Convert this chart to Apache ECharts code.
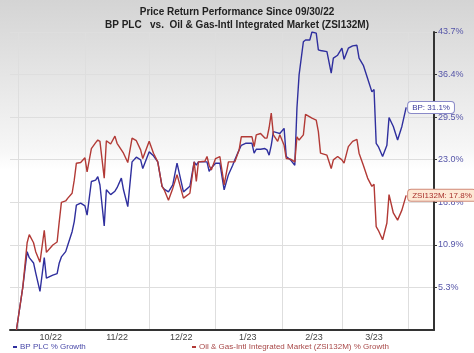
<!DOCTYPE html>
<html lang="en">
<head>
<meta charset="UTF-8">
<title>BP PLC vs ZSI132M</title>
<script src="https://cdn.jsdelivr.net/npm/echarts@6/dist/echarts.min.js"></script>
<style>
    html, body { margin: 0; padding: 0; background: #fff; }
    #chart { width: 474px; height: 353px; }
</style>
</head>
<body>
<div id="chart"></div>
<script>
// trading dates (not every day)
var dates = [
    '2022-09-30','2022-10-03','2022-10-05','2022-10-06','2022-10-08','2022-10-09','2022-10-11','2022-10-13','2022-10-14','2022-10-17',
    '2022-10-19','2022-10-20','2022-10-21','2022-10-23','2022-10-24','2022-10-26','2022-10-27','2022-10-28','2022-10-30',
    '2022-11-01','2022-11-02','2022-11-04','2022-11-06','2022-11-07','2022-11-08','2022-11-10','2022-11-11','2022-11-13','2022-11-15',
    '2022-11-16','2022-11-18','2022-11-19','2022-11-21','2022-11-23','2022-11-25','2022-11-27','2022-11-28',
    '2022-12-01','2022-12-03','2022-12-05','2022-12-07','2022-12-08','2022-12-10','2022-12-12','2022-12-14','2022-12-17','2022-12-20',
    '2022-12-22','2022-12-23','2022-12-24','2022-12-27','2022-12-28','2022-12-29','2022-12-30',
    '2023-01-01','2023-01-03','2023-01-05','2023-01-07','2023-01-09','2023-01-10','2023-01-12','2023-01-13','2023-01-15','2023-01-18',
    '2023-01-19','2023-01-20','2023-01-22','2023-01-24','2023-01-25','2023-01-26','2023-01-27','2023-01-28','2023-01-30','2023-01-31',
    '2023-02-02','2023-02-03','2023-02-05','2023-02-07','2023-02-08','2023-02-09','2023-02-11','2023-02-12','2023-02-14','2023-02-15',
    '2023-02-17','2023-02-18','2023-02-19','2023-02-22','2023-02-24','2023-02-25','2023-02-27',
    '2023-03-01','2023-03-02','2023-03-04','2023-03-06','2023-03-08','2023-03-09','2023-03-11','2023-03-13','2023-03-15','2023-03-16',
    '2023-03-17','2023-03-18','2023-03-20','2023-03-22','2023-03-23','2023-03-25','2023-03-27','2023-03-29','2023-03-31'
];

// % growth since 09/30/22
var bp = [
    0, 5.4, 10.0, 9.2, 8.5, 7.2, 4.8, 9.2, 6.5, 6.9, 7.1, 8.5, 9.3, 10.0, 10.9, 12.7, 14.1, 16.4, 16.7,
    16.3, 15.0, 19.8, 20.0, 20.5, 19.3, 13.5, 18.6, 17.9, 18.4, 18.9, 20.3, 18.6, 16.2, 22.7, 23.4, 23.0, 21.7,
    24.2, 23.6, 22.7, 19.1, 18.7, 18.3, 19.3, 22.5, 18.3, 19.1, 22.7, 22.2, 22.7, 22.7, 22.7, 21.3, 21.8,
    22.5, 22.5, 18.6, 20.8, 22.2, 23.0, 24.5, 25.2, 25.5, 25.5, 24.0, 24.6, 24.6, 24.7, 24.5, 23.7, 25.2, 27.3, 27.1, 27.0,
    27.8, 23.5, 23.0, 22.2, 31.0, 36.4, 42.0, 42.3, 42.3, 43.7, 43.5, 40.6, 40.5, 40.3, 36.7, 39.2, 39.7,
    40.9, 39.0, 40.9, 41.3, 41.4, 39.2, 38.0, 35.8, 33.6, 34.0, 25.5, 25.0, 23.5, 25.2, 29.5, 28.1, 26.0, 28.1, 31.1
];
var zsi = [
    0, 5.4, 11.2, 12.3, 11.2, 10.0, 8.6, 12.9, 9.9, 10.9, 11.3, 14.1, 16.8, 17.0, 17.4, 18.1, 20.0, 22.5, 22.6,
    23.3, 21.2, 24.7, 25.6, 26.0, 25.8, 20.3, 25.9, 25.4, 26.6, 25.5, 24.5, 24.0, 22.6, 26.3, 25.9, 24.5, 23.2,
    25.8, 24.0, 22.7, 19.1, 18.6, 17.1, 18.8, 20.8, 17.4, 18.1, 22.7, 19.8, 22.7, 22.8, 23.5, 22.2, 21.5,
    23.2, 23.5, 19.3, 22.7, 22.7, 22.7, 24.5, 26.5, 26.5, 26.5, 25.0, 26.8, 27.0, 26.3, 26.3, 27.9, 30.2, 26.8, 25.8, 26.8,
    25.2, 23.2, 23.1, 22.7, 26.5, 26.0, 26.8, 30.0, 29.6, 29.4, 29.1, 27.3, 24.0, 23.7, 21.7, 23.0, 23.5,
    23.0, 22.5, 25.0, 25.8, 26.1, 24.0, 22.2, 20.3, 19.1, 19.4, 13.4, 12.9, 11.6, 13.9, 17.9, 15.3, 14.3, 15.7, 17.8
];

// right axis is a log scale of (1 + growth)
var tickLabels = ['0%', '5.3%', '10.9%', '16.8%', '23.0%', '29.5%', '36.4%', '43.7%'];
var axisTop = 43.7;
var axisStart = '2022-09-27';
var axisEnd = '2023-04-13';

function toLog(g) { return Math.log(1 + g / 100); }

var days = [];
var t = Date.parse(axisStart + 'T00:00:00Z');
var tEnd = Date.parse(axisEnd + 'T00:00:00Z');
while (t <= tEnd) {
    days.push(new Date(t).toISOString().slice(0, 10));
    t += 86400000;
}

var yMax = toLog(axisTop);
var step = yMax / 7;

var blue = '#2f2f9e';
var red = '#b23a36';
var font = 'Liberation Sans, Arial, sans-serif';

var chart = echarts.init(document.getElementById('chart'));
chart.setOption({
    animation: false,
    backgroundColor: {
        type: 'linear', x: 0, y: 0, x2: 0, y2: 1,
        colorStops: [
            {offset: 0, color: '#d4d4d4'},
            {offset: 0.42, color: '#f6f6f6'},
            {offset: 0.48, color: '#ffffff'},
            {offset: 1, color: '#ffffff'}
        ]
    },
    title: {
        text: 'Price Return Performance Since 09/30/22\nBP PLC   vs.  Oil & Gas-Intl Integrated Market (ZSI132M)',
        left: 'center',
        top: 1,
        textStyle: {fontFamily: font, fontSize: 10, fontWeight: 'bold', color: '#222', lineHeight: 13}
    },
    legend: [{
        data: ['BP PLC % Growth'],
        left: 8, top: 338,
        icon: 'rect', itemWidth: 4, itemHeight: 2, itemGap: 4,
        textStyle: {fontFamily: font, fontSize: 8, color: '#4848a8', padding: [0, 0, 0, -2]}
    }, {
        data: ['Oil & Gas-Intl Integrated Market (ZSI132M) % Growth'],
        left: 187, top: 338,
        icon: 'rect', itemWidth: 4, itemHeight: 2,
        textStyle: {fontFamily: font, fontSize: 8, color: '#a84848', padding: [0, 0, 0, -2]}
    }],
    grid: {left: 10, right: 40, top: 32, bottom: 23, containLabel: false, outerBoundsMode: 'none'},
    xAxis: {
        type: 'category',
        data: days,
        boundaryGap: false,
        axisLine: {lineStyle: {color: '#333', width: 2}},
        axisTick: {show: false},
        axisLabel: {
            interval: function (i, v) { return v.slice(8) === '16'; },
            formatter: function (v) { return parseInt(v.slice(5, 7), 10) + '/' + v.slice(2, 4); },
            fontFamily: font, fontSize: 9, color: '#444', margin: 3
        },
        splitLine: {
            show: true,
            interval: function (i, v) { return v.slice(8) === '01'; },
            lineStyle: {color: '#dedede', width: 1}
        }
    },
    yAxis: {
        type: 'value',
        position: 'right',
        min: 0,
        max: yMax,
        interval: step,
        axisLine: {show: true, lineStyle: {color: '#333', width: 2}},
        axisTick: {show: true, length: 3, lineStyle: {color: '#333'}},
        axisLabel: {
            showMinLabel: false,
            formatter: function (v) { return tickLabels[Math.round(v / step)]; },
            fontFamily: font, fontSize: 9, color: '#5555a8', margin: 4
        },
        splitLine: {lineStyle: {color: '#dedede', width: 1}}
    },
    series: [{
        name: 'BP PLC % Growth',
        type: 'line',
        showSymbol: false,
        symbol: 'none',
        lineStyle: {color: blue, width: 1.4},
        itemStyle: {color: blue},
        data: dates.map(function (d, i) { return [d, toLog(bp[i])]; }),
        endLabel: {
            show: true,
            distance: 2,
            formatter: function () { return 'BP: ' + bp[bp.length - 1].toFixed(1) + '%'; },
            fontFamily: font, fontSize: 8, color: '#3a3a9a',
            backgroundColor: '#fff', borderColor: '#8a8ac8', borderWidth: 1, borderRadius: 3,
            padding: [2, 4, 1, 4]
        }
    }, {
        name: 'Oil & Gas-Intl Integrated Market (ZSI132M) % Growth',
        type: 'line',
        showSymbol: false,
        symbol: 'none',
        lineStyle: {color: red, width: 1.4},
        itemStyle: {color: red},
        data: dates.map(function (d, i) { return [d, toLog(zsi[i])]; }),
        endLabel: {
            show: true,
            distance: 2,
            formatter: function () { return 'ZSI132M: ' + zsi[zsi.length - 1].toFixed(1) + '%'; },
            fontFamily: font, fontSize: 8, color: '#a8322e',
            backgroundColor: '#fde8d4', borderColor: '#d08a78', borderWidth: 1, borderRadius: 3,
            padding: [2, 4, 1, 4]
        }
    }]
});
</script>
</body>
</html>
